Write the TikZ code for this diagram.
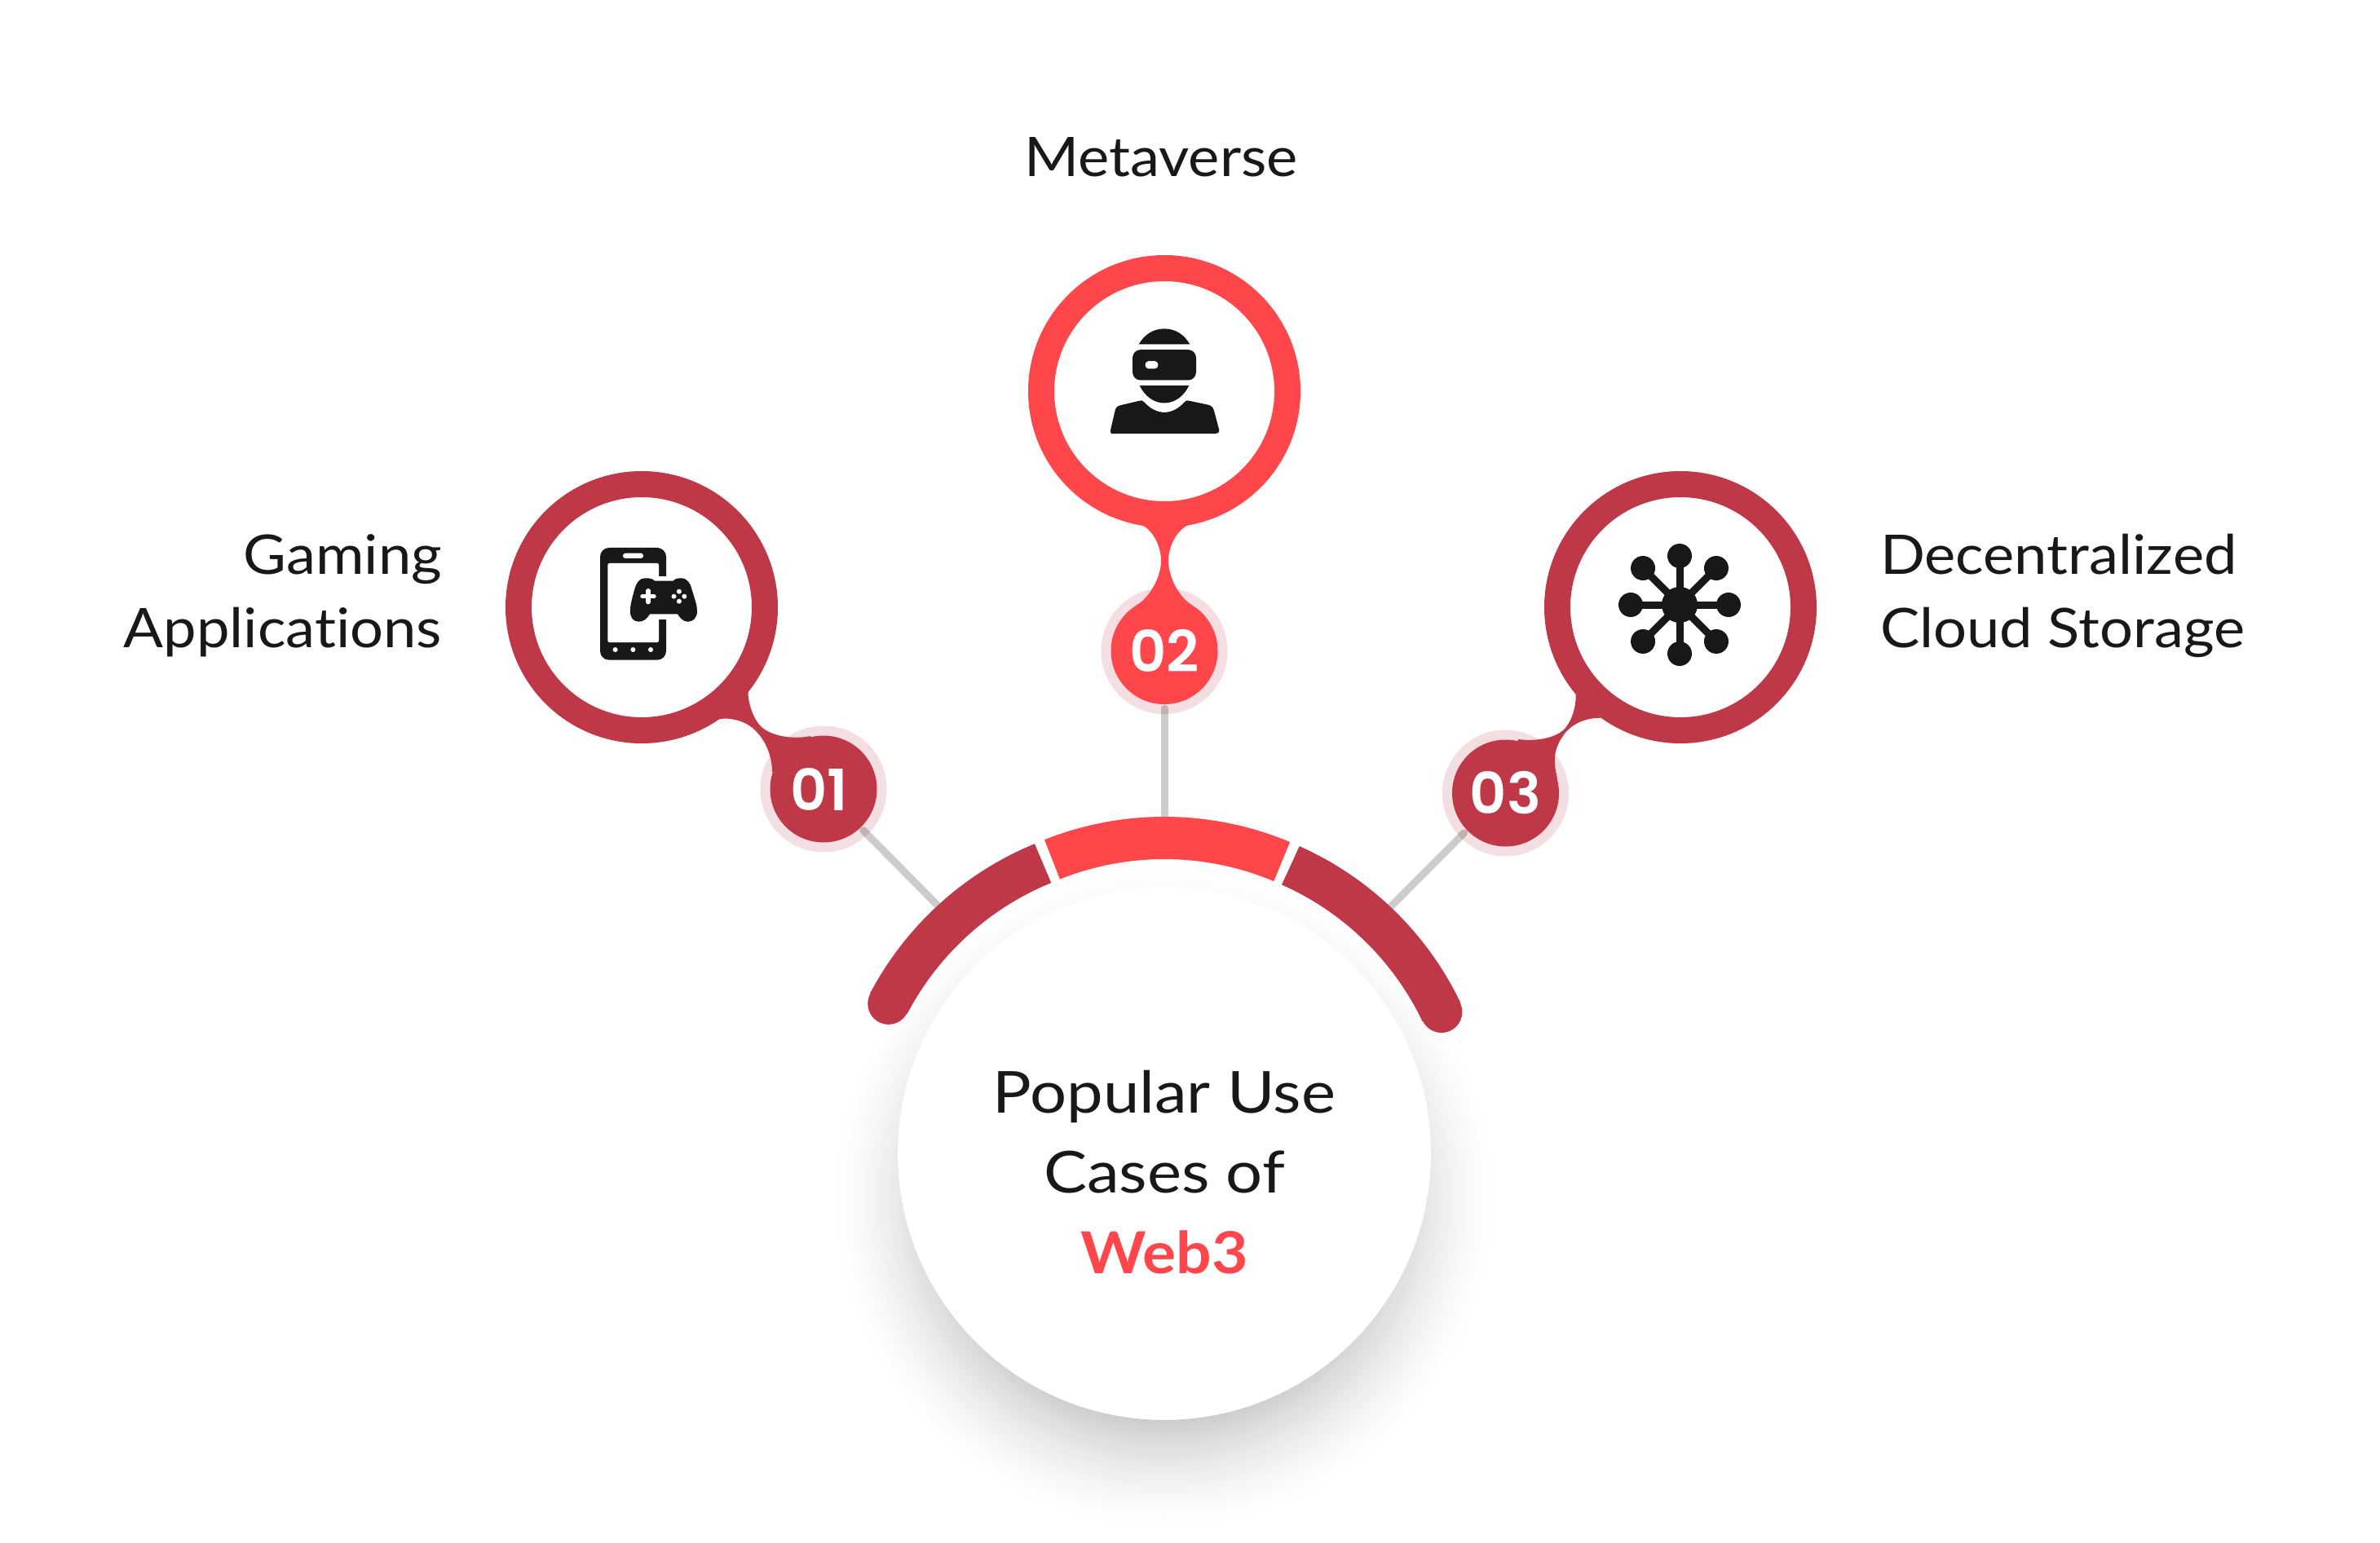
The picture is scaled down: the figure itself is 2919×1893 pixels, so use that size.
\documentclass[tikz,border=0pt]{standalone}
\usepackage{fontspec}
\setmainfont{Lato}
\newfontfamily\labelfont{Lato}[FakeStretch=1.08,Ligatures={NoCommon,NoRare}]
\newfontfamily\centerfont{Lato}[FakeStretch=1.12,Ligatures={NoCommon,NoRare}]
\newfontfamily\webfont{Lato}[FakeStretch=1.08]
\newfontfamily\numfont{Poppins SemiBold}
\definecolor{webred}{RGB}{255,70,75}
\definecolor{webdark}{RGB}{190,56,72}
\definecolor{halotint}{RGB}{243,222,225}
\definecolor{inkc}{RGB}{24,24,24}
\tikzset{
 ringnode/.style={circle,inner sep=0pt,outer sep=0pt,minimum size=151pt,line width=16pt,fill=white,draw=#1},
 badgenode/.style={circle,inner sep=0pt,outer sep=0pt,minimum size=65.5pt,fill=#1,text=white,font=\numfont\fontsize{35}{35}\selectfont},
 halonode/.style={circle,inner sep=0pt,outer sep=0pt,minimum size=77.5pt,fill=halotint},
 labelnode/.style={inner sep=0pt,outer sep=0pt,text=inkc,font=\labelfont\fontsize{33.5}{45}\selectfont},
 conn/.style={line width=4.5pt,black,opacity=.2,line cap=round},
 arcband/.style={line width=26pt,line cap=butt},
 icon/.style={fill=inkc,draw=none},
 iconhole/.style={fill=white,draw=none}
}
\begin{document}
\begin{tikzpicture}[x=0.5pt,y=-0.5pt]
\useasboundingbox (0,0) rectangle (2919,1893);
\fill[white] (0,0) rectangle (2919,1893);
% shadow as concentric discs
\coordinate (shadowC) at (1428,1470);
\foreach \r in {410,408,...,270}{
  \pgfmathsetmacro{\v}{20*pow((410-\r)/138,1.6)}
  \fill[black!\v] (shadowC) circle[radius=\r];
}
% coordinates
\coordinate (arcC) at (1428,1400);
\coordinate (arcA) at (1165,1126);
\coordinate (arcB) at (1428,1020);
\coordinate (arcD) at (1690,1128);
% halos
\node[halonode] (halo1) at (1010,968) {};
\node[halonode] (halo2) at (1428,798.5) {};
\node[halonode] (halo3) at (1846.5,973) {};
% connectors
\draw[conn,shorten <=-3.5pt] (halo1.-46) -- (arcA);
\draw[conn,shorten <=-3.5pt] (halo2.south) -- (arcB);
\draw[conn,shorten <=-3.5pt] (halo3.-136) -- (arcD);
% arc
\begin{scope}[shift={(arcC)},x=0.5pt,y=0.5pt]
 \draw[arcband,webdark] plot[smooth,domain=113.6:153.5,samples=21] ({(372+6*(\x-113.6)/40)*cos(\x)},{(372+6*(\x-113.6)/40)*sin(\x)});
 \fill[webdark] (153.5:378) circle[radius=25.5];
 \draw[arcband,webred] (111.7:372) arc[start angle=111.7,end angle=67.2,radius=372];
 \draw[arcband,webdark] plot[smooth,domain=65.4:25,samples=21] ({(372+3*(65.4-\x)/40)*cos(\x)},{(372+3*(65.4-\x)/40)*sin(\x)});
 \fill[webdark] (25:375) circle[radius=25.5];
\end{scope}
% necks
\fill[webdark] (917.5,849) .. controls (917.5,862) and (923,880) .. (932,890)
  .. controls (943,902) and (970,908) .. (994,903) -- (1010,968) -- (947,947)
  .. controls (947,925) and (937,905) .. (923,893)
  .. controls (912,884) and (893,879) .. (879,883) -- cycle;
\fill[webred] (1398,643) .. controls (1412,648) and (1424,668) .. (1424,688)
  .. controls (1424,710) and (1408,735) .. (1393,743) -- (1428,798) -- (1463,743)
  .. controls (1448,735) and (1433,710) .. (1433,688)
  .. controls (1433,668) and (1445,648) .. (1460,643) -- cycle;
\fill[webdark] (1932.7,851.7) .. controls (1933,868) and (1928,883) .. (1920,893)
  .. controls (1910,905) and (1885,910) .. (1862,907) -- (1846,973) -- (1910,955)
  .. controls (1905,935) and (1905,920) .. (1916.7,903.3)
  .. controls (1924,891) and (1942,880) .. (1963.3,881) -- cycle;
% rings
\node[ringnode=webdark] (ring1) at (787,745) {};
\node[ringnode=webred] (ring2) at (1428,480) {};
\node[ringnode=webdark] (ring3) at (2061,745) {};
% badges
\node[badgenode=webdark] (badge1) at (1010,968) {01\kern5.6pt};
\node[badgenode=webred] (badge2) at (1428,798.5) {02};
\node[badgenode=webdark] (badge3) at (1846.5,973) {03};
% main circle
\node[circle,fill=white,inner sep=0pt,outer sep=0pt,minimum size=327pt] (main) at (1428,1415) {};
\node[inner sep=0pt,outer sep=0pt,text=inkc,align=center,font=\centerfont\fontsize{35.5}{49.25}\selectfont] (maintext) at (1428,1438)
  {Popular Use\\Cases of\\{\color{webred}\webfont\bfseries Web3}};
% labels
\node[labelnode,align=center] (lab2) at (1424,193) {Metaverse};
\node[labelnode,align=right,anchor=east] (lab1) at (542,731) {Gaming\\Applications};
\node[labelnode,align=left,anchor=west] (lab3) at (2306,731) {Decentralized\\Cloud Storage};
% icon phone + gamepad
\fill[icon,rounded corners=5.5pt] (736,672) rectangle (817,809.7);
\fill[iconhole,rounded corners=1pt] (745.4,691) rectangle (808,788);
\fill[iconhole] (808,706.7) rectangle (818,760);
\fill[iconhole,rounded corners=1.5pt] (764,678.7) rectangle (789,685);
\foreach \p in {754.6,776.4,798} \fill[iconhole] (\p,797) circle[radius=3];
\fill[icon] (803.2,712.7) -- (825.7,712.7) .. controls (829,709) and (832,709.3) .. (835.4,709.3)
 .. controls (843,709.3) and (847,716) .. (848.6,723.3)
 .. controls (852,735) and (855,742) .. (855,750)
 .. controls (855,758) and (850,762.7) .. (843.6,762.7)
 .. controls (838,762.7) and (834,758) .. (831,753.3) -- (797.1,753.3)
 .. controls (794,758) and (790,762.7) .. (783.6,762.7)
 .. controls (777,762.7) and (772.9,758) .. (772.9,750)
 .. controls (772.9,742) and (775,735) .. (778.2,723.3)
 .. controls (780,716) and (784,709.3) .. (790.7,709.3)
 .. controls (795,709.3) and (799,709) .. (803.2,712.7) -- cycle;
\draw[white,line width=2.7pt,line cap=round] (788,731.7) -- (802,731.7);
\draw[white,line width=2.7pt,line cap=round] (795,724.7) -- (795,738.7);
\foreach \dx/\dy in {6.4/0,-6.4/0,0/6,0/-6} \fill[iconhole] (832.9+\dx,731.7+\dy) circle[radius=3];
% icon VR
\fill[icon] (1396.7,422.5) .. controls (1403,411) and (1414,403.3) .. (1428,403.3)
 .. controls (1442,403.3) and (1453,411) .. (1459.3,422.5) -- cycle;
\fill[icon,rounded corners=5pt] (1389,429) rectangle (1467,466.5);
\fill[iconhole,rounded corners=2pt] (1404.7,443) rectangle (1420.3,452.3);
\fill[icon] (1397.7,473) -- (1458.3,473) .. controls (1452,486) and (1441,494.4) .. (1428,494.4)
 .. controls (1415,494.4) and (1404,486) .. (1397.7,473) -- cycle;
\fill[icon] (1362,527.7) -- (1367.3,505) .. controls (1368,500) and (1371,497.7) .. (1375,497)
 -- (1398,491.6) .. controls (1400,491) and (1401,491.4) .. (1403,493)
 .. controls (1410,501) and (1419,505.9) .. (1428,505.9)
 .. controls (1437,505.9) and (1446,501) .. (1453,493)
 .. controls (1455,491.4) and (1456,491) .. (1458,491.6)
 -- (1483.3,497) .. controls (1486,497.7) and (1488,500) .. (1489.3,505)
 -- (1495.3,527.7) .. controls (1496,530) and (1494,532) .. (1491,532)
 -- (1365,532) .. controls (1362,532) and (1361,530) .. (1362,527.7) -- cycle;
% icon network
\begin{scope}[shift={(2060,742)}]
 \fill[icon] (0,0) circle[radius=22];
 \foreach \a/\d in {0/60,45/63.6,90/60,135/63.6,180/60,225/63.6,270/60,315/63.6}{
   \draw[inkc,line width=4.5pt] (0,0) -- ({\d*cos(\a)},{\d*sin(\a)});
   \fill[icon] ({\d*cos(\a)},{\d*sin(\a)}) circle[radius=15];
 }
\end{scope}
\end{tikzpicture}
\end{document}
